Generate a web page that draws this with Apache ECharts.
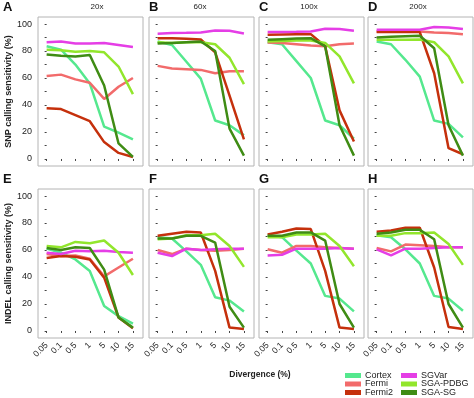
<!DOCTYPE html>
<html>
<head>
<meta charset="utf-8">
<script src="https://cdn.jsdelivr.net/npm/echarts@6/dist/echarts.min.js"></script>
<style>
  html, body { margin: 0; padding: 0; background: #fff; }
  #main { width: 474px; height: 398px; }
</style>
</head>
<body>
<div id="main"></div>
<script>
const divergence = ['0.05', '0.1', '0.5', '1', '5', '10', '15'];
const coverages = ['20x', '60x', '100x', '200x'];
const methods = ['Cortex', 'Fermi', 'Fermi2', 'SGVar', 'SGA-PDBG', 'SGA-SG'];
const colors = ['#55e88e', '#f26b6b', '#c5300c', '#e53ee6', '#92e62c', '#3f8c14'];

// SNP calling sensitivity (%), one row per coverage (20x, 60x, 100x, 200x)
const snpCortex = [[83.5, 81, 70, 56, 24, 19.5, 14.5], [87, 84.5, 72, 59.5, 28.5, 25, 17.5], [86.5, 85, 72.5, 60, 28.5, 25, 15], [87, 85, 73.5, 61, 28.5, 26, 16]];
const snpFermi = [[61.5, 62.5, 59, 56.5, 44.5, 53.5, 60], [69, 67, 66.5, 66, 63.5, 65, 65], [86.3, 86, 85, 84, 83.5, 85, 85.5], [94.5, 94.5, 94.5, 94.5, 93.8, 93.3, 92.5]];
const snpFermi2 = [[37.5, 37, 32.5, 28, 12.5, 4.5, 1.5], [89.5, 89.5, 89, 88.5, 79, 47, 14.5], [92, 92.3, 92.5, 92.5, 83.5, 36, 13], [94, 94, 94, 94, 63.5, 8, 3.5]];
const snpSGVar = [[86.5, 87, 85.5, 85.5, 86, 84.5, 83], [92.8, 93.3, 93.5, 93.8, 95.2, 95, 93], [94, 94, 94.2, 94.5, 96.5, 96.3, 95], [95.8, 95.8, 95.8, 95.8, 97.8, 97.5, 96.3]];
const snpPDBG = [[81, 80.5, 79.5, 80, 79, 68.5, 48], [86.5, 86, 86.5, 86.5, 85, 75, 55.5], [87, 87.5, 87.8, 87.8, 86, 76, 56], [88.3, 88.3, 88.3, 88.5, 86.5, 76, 56]];
const snpSG = [[77.5, 76.5, 76, 77, 54.5, 11.5, 1.5], [85.5, 86, 86.5, 87, 80, 22.5, 2.5], [88.3, 88.8, 89.2, 89.5, 83.5, 25, 2.5], [90, 90.5, 91, 91.3, 82, 25, 2.5]];

// INDEL calling sensitivity (%)
const indelCortex = [[61, 58, 53, 44.5, 18.5, 11, 5.5], [69.5, 68.5, 59, 49, 25, 22.5, 14.5], [71, 69.5, 59.5, 50, 26, 24, 14.5], [71, 69.5, 60.5, 50, 26, 24, 15]];
const indelFermi = [[57, 55.5, 56, 53.5, 40.5, 47, 53.5], [60, 57, 61, 60, 59.5, 60, 61], [60.5, 58, 63, 63, 62, 61.5, 61], [61.5, 59, 64, 63.5, 63, 62, 62]];
const indelFermi2 = [[54, 55.5, 55, 53, 39.5, 10, 2], [70.5, 72, 73.5, 73, 44.5, 2.5, 1.5], [71.5, 73.5, 76, 75.5, 44.5, 2.5, 1.5], [73.5, 74.5, 76.5, 76.5, 47, 3, 1.5]];
const indelSGVar = [[58, 57, 59.5, 59, 59.5, 58.5, 58], [58, 55.5, 61, 60, 60.5, 61, 61], [56, 56.5, 61, 61, 61, 61.5, 61], [60.5, 56, 61, 61, 61.5, 62, 62]];
const indelPDBG = [[63, 62, 66, 65, 67, 58, 41.5], [68, 68.5, 71, 71, 72, 63, 47.5], [69.5, 69.5, 71.5, 71.5, 72, 63, 48], [70.5, 70.5, 72.5, 72.5, 73, 64.5, 49]];
const indelSG = [[61.5, 60, 62, 61.5, 45.5, 10, 2.5], [68.5, 68.5, 70.5, 70.5, 65.5, 18, 2.5], [70.5, 70.5, 73, 73, 67, 20, 2.5], [72, 73, 75, 75, 68, 20, 2.5]];

const yTicks = [0, 10, 20, 30, 40, 50, 60, 70, 80, 90, 100];
const yLabels = [0, 20, 40, 60, 80, 100];
const xIdx = divergence.map((d, i) => i);

const snpRows = [snpCortex, snpFermi, snpFermi2, snpSGVar, snpPDBG, snpSG];
const indelRows = [indelCortex, indelFermi, indelFermi2, indelSGVar, indelPDBG, indelSG];

const panelLeft = [38, 149, 259, 368];
const panelTop = [17, 189];
const letters = [['A', 'B', 'C', 'D'], ['E', 'F', 'G', 'H']];
const titleX = [97, 200, 309, 418];
const font = 'Liberation Sans, Arial, sans-serif';

var grids = [], xAxes = [], yAxes = [], series = [], graphics = [], legends = [];

for (let r = 0; r < 2; r++) {
  for (let c = 0; c < 4; c++) {
    let k = r * 4 + c;
    grids.push({
      left: panelLeft[c], top: panelTop[r], width: 105, height: 149,
      show: true, borderColor: '#b4b4b4', borderWidth: 1, backgroundColor: '#fff'
    });
    xAxes.push({
      gridIndex: k, type: 'value', min: -0.6, max: 6.7, offset: 2,
      axisLine: { show: false },
      axisTick: { show: true, length: 2, customValues: xIdx, lineStyle: { color: '#444' } },
      axisLabel: {
        show: r === 1, customValues: xIdx, rotate: 45, margin: 4,
        fontSize: 8.5, color: '#222', fontFamily: font,
        formatter: v => divergence[v]
      },
      splitLine: { show: false }
    });
    yAxes.push({
      gridIndex: k, type: 'value', min: -5.2, max: 105.2, offset: 2,
      axisLine: { show: false },
      axisTick: { show: true, length: 2, customValues: yTicks, lineStyle: { color: '#444' } },
      axisLabel: { show: c === 0, customValues: yLabels, margin: 4, fontSize: 9, color: '#222', fontFamily: font },
      splitLine: { show: false },
      name: c === 0 ? (r === 0 ? 'SNP calling sensitivity (%)' : 'INDEL calling sensitivity (%)') : '',
      nameLocation: 'middle', nameGap: 22,
      nameTextStyle: { fontSize: 9, fontWeight: 'bold', color: '#222', fontFamily: font }
    });
    let rows = r === 0 ? snpRows : indelRows;
    methods.forEach((m, j) => {
      series.push({
        name: m, type: 'line', xAxisIndex: k, yAxisIndex: k,
        symbol: 'none', color: colors[j],
        lineStyle: { width: 2.5, color: colors[j] },
        data: rows[j][c].map((v, i) => [xIdx[i], v])
      });
    });
    graphics.push({
      type: 'text', left: panelLeft[c] - (c === 0 ? 35 : 0), top: panelTop[r] - 16,
      style: { text: letters[r][c], font: 'bold 13px ' + font, fill: '#111' }
    });
    if (r === 0) {
      graphics.push({
        type: 'text', x: titleX[c], y: 3,
        style: { text: coverages[c], font: '8px ' + font, fill: '#222', textAlign: 'center' }
      });
    }
  }
}

graphics.push({
  type: 'text', x: 260, y: 370,
  style: { text: 'Divergence (%)', font: 'bold 8.5px ' + font, fill: '#222', textAlign: 'center' }
});

// one legend per entry: two columns of three
methods.forEach((m, j) => {
  legends.push({
    data: [m], left: j < 3 ? 345 : 401, top: 371 + (j % 3) * 8.5,
    icon: 'rect', itemWidth: 16, itemHeight: 5, itemGap: 0, padding: 0,
    textStyle: { fontSize: 9, color: '#222', fontFamily: font, padding: [0, 0, 0, -1] }
  });
});

var chart = echarts.init(document.getElementById('main'), null, { renderer: 'canvas' });
chart.setOption({
  animation: false,
  backgroundColor: '#fff',
  grid: grids,
  xAxis: xAxes,
  yAxis: yAxes,
  series: series,
  graphic: graphics,
  legend: legends
});
</script>
</body>
</html>
